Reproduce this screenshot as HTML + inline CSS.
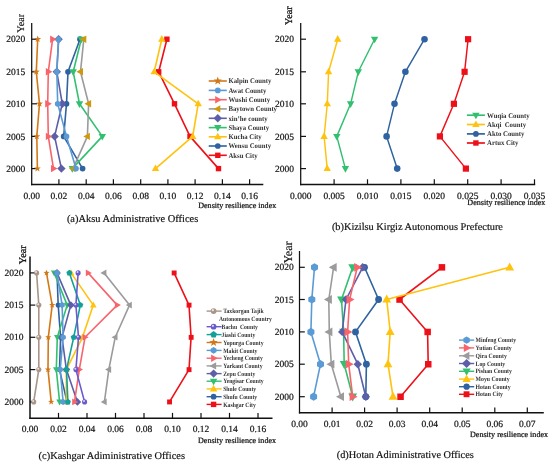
<!DOCTYPE html>
<html lang="en"><head><meta charset="utf-8"><title>Density resilience index</title>
<style>
html,body{margin:0;padding:0;background:#fff;}
body{width:550px;height:466px;overflow:hidden;}
svg{display:block;text-rendering:geometricPrecision;font-family:"Liberation Serif",serif;}
.t{font-size:9.5px;fill:#111;stroke:#111;stroke-width:0.2px;}
.lg{font-weight:bold;fill:#333;}
.yr{fill:#111;stroke:#111;stroke-width:0.15px;}
.yrb{fill:#111;stroke:#111;stroke-width:0.3px;}
.xl{font-size:8.08px;fill:#111;stroke:#111;stroke-width:0.22px;}
.ti{fill:#111;stroke:#111;stroke-width:0.18px;}
</style></head><body>
<svg width="550" height="466" viewBox="0 0 550 466">
<rect width="550" height="466" fill="#fff"/>
<g id="pa">
<line x1="31.7" y1="23" x2="31.7" y2="185.35" stroke="#111" stroke-width="1.25"/>
<line x1="31.099999999999998" y1="184.6" x2="263.3" y2="184.6" stroke="#111" stroke-width="1.5"/>
<line x1="58.9" y1="184.6" x2="58.9" y2="179.29999999999998" stroke="#111" stroke-width="1.2"/>
<line x1="86.2" y1="184.6" x2="86.2" y2="179.29999999999998" stroke="#111" stroke-width="1.2"/>
<line x1="113.4" y1="184.6" x2="113.4" y2="179.29999999999998" stroke="#111" stroke-width="1.2"/>
<line x1="140.7" y1="184.6" x2="140.7" y2="179.29999999999998" stroke="#111" stroke-width="1.2"/>
<line x1="167.9" y1="184.6" x2="167.9" y2="179.29999999999998" stroke="#111" stroke-width="1.2"/>
<line x1="195.1" y1="184.6" x2="195.1" y2="179.29999999999998" stroke="#111" stroke-width="1.2"/>
<line x1="222.4" y1="184.6" x2="222.4" y2="179.29999999999998" stroke="#111" stroke-width="1.2"/>
<line x1="249.6" y1="184.6" x2="249.6" y2="179.29999999999998" stroke="#111" stroke-width="1.2"/>
<line x1="31.7" y1="39.2" x2="37.0" y2="39.2" stroke="#111" stroke-width="1.2"/>
<line x1="31.7" y1="71.8" x2="37.0" y2="71.8" stroke="#111" stroke-width="1.2"/>
<line x1="31.7" y1="103.8" x2="37.0" y2="103.8" stroke="#111" stroke-width="1.2"/>
<line x1="31.7" y1="136.4" x2="37.0" y2="136.4" stroke="#111" stroke-width="1.2"/>
<line x1="31.7" y1="168.6" x2="37.0" y2="168.6" stroke="#111" stroke-width="1.2"/>
<text x="31.7" y="199.0" text-anchor="middle" class="t">0.00</text>
<text x="58.9" y="199.0" text-anchor="middle" class="t">0.02</text>
<text x="86.2" y="199.0" text-anchor="middle" class="t">0.04</text>
<text x="113.4" y="199.0" text-anchor="middle" class="t">0.06</text>
<text x="140.7" y="199.0" text-anchor="middle" class="t">0.08</text>
<text x="167.9" y="199.0" text-anchor="middle" class="t">0.10</text>
<text x="195.1" y="199.0" text-anchor="middle" class="t">0.12</text>
<text x="222.4" y="199.0" text-anchor="middle" class="t">0.14</text>
<text x="249.6" y="199.0" text-anchor="middle" class="t">0.16</text>
<text x="25.3" y="42.3" text-anchor="end" class="t">2020</text>
<text x="25.3" y="74.9" text-anchor="end" class="t">2015</text>
<text x="25.3" y="106.9" text-anchor="end" class="t">2010</text>
<text x="25.3" y="139.5" text-anchor="end" class="t">2005</text>
<text x="25.3" y="171.7" text-anchor="end" class="t">2000</text>
<polyline points="166.9,39.2 158.7,71.8 174.5,103.8 190.0,136.4 218.5,168.6" fill="none" stroke="#EE1018" stroke-width="1.6" stroke-linejoin="round"/>
<rect x="164.2" y="36.5" width="5.4" height="5.4" fill="#EE1018"/>
<rect x="156.0" y="69.1" width="5.4" height="5.4" fill="#EE1018"/>
<rect x="171.8" y="101.1" width="5.4" height="5.4" fill="#EE1018"/>
<rect x="187.3" y="133.7" width="5.4" height="5.4" fill="#EE1018"/>
<rect x="215.8" y="165.9" width="5.4" height="5.4" fill="#EE1018"/>
<polyline points="80.0,39.2 68.0,71.8 66.5,103.8 63.7,136.4 82.6,168.6" fill="none" stroke="#2E62A0" stroke-width="1.6" stroke-linejoin="round"/>
<circle cx="80.0" cy="39.2" r="2.85" fill="#2E62A0"/>
<circle cx="68.0" cy="71.8" r="2.85" fill="#2E62A0"/>
<circle cx="66.5" cy="103.8" r="2.85" fill="#2E62A0"/>
<circle cx="63.7" cy="136.4" r="2.85" fill="#2E62A0"/>
<circle cx="82.6" cy="168.6" r="2.85" fill="#2E62A0"/>
<polyline points="161.8,39.2 154.2,71.8 198.2,103.8 192.7,136.4 155.5,168.6" fill="none" stroke="#FFC20E" stroke-width="1.6" stroke-linejoin="round"/>
<polygon points="161.8,35.1 165.5,41.7 158.1,41.7" fill="#FFC20E"/>
<polygon points="154.2,67.7 157.9,74.3 150.5,74.3" fill="#FFC20E"/>
<polygon points="198.2,99.7 201.9,106.3 194.5,106.3" fill="#FFC20E"/>
<polygon points="192.7,132.3 196.4,138.9 189.0,138.9" fill="#FFC20E"/>
<polygon points="155.5,164.5 159.2,171.1 151.8,171.1" fill="#FFC20E"/>
<polyline points="81.3,39.2 73.2,71.8 79.5,103.8 102.3,136.4 72.3,168.6" fill="none" stroke="#32C070" stroke-width="1.6" stroke-linejoin="round"/>
<polygon points="81.3,43.3 85.0,36.7 77.6,36.7" fill="#32C070"/>
<polygon points="73.2,75.9 76.9,69.3 69.5,69.3" fill="#32C070"/>
<polygon points="79.5,107.9 83.2,101.3 75.8,101.3" fill="#32C070"/>
<polygon points="102.3,140.5 106.0,133.9 98.6,133.9" fill="#32C070"/>
<polygon points="72.3,172.7 76.0,166.1 68.6,166.1" fill="#32C070"/>
<polyline points="58.6,39.2 56.8,71.8 62.3,103.8 54.6,136.4 61.4,168.6" fill="none" stroke="#5C5EA8" stroke-width="1.6" stroke-linejoin="round"/>
<polygon points="58.6,35.0 62.8,39.2 58.6,43.4 54.4,39.2" fill="#5C5EA8"/>
<polygon points="56.8,67.6 61.0,71.8 56.8,76.0 52.6,71.8" fill="#5C5EA8"/>
<polygon points="62.3,99.6 66.5,103.8 62.3,108.0 58.1,103.8" fill="#5C5EA8"/>
<polygon points="54.6,132.2 58.8,136.4 54.6,140.6 50.4,136.4" fill="#5C5EA8"/>
<polygon points="61.4,164.4 65.6,168.6 61.4,172.8 57.2,168.6" fill="#5C5EA8"/>
<polyline points="83.8,39.2 80.5,71.8 88.6,103.8 87.4,136.4 73.0,168.6" fill="none" stroke="#9b9b9b" stroke-width="1.6" stroke-linejoin="round"/>
<polygon points="79.7,39.2 86.3,35.5 86.3,42.9" fill="#CF9A0A"/>
<polygon points="76.4,71.8 83.0,68.1 83.0,75.5" fill="#CF9A0A"/>
<polygon points="84.5,103.8 91.1,100.1 91.1,107.5" fill="#CF9A0A"/>
<polygon points="83.3,136.4 89.9,132.7 89.9,140.1" fill="#CF9A0A"/>
<polygon points="68.9,168.6 75.5,164.9 75.5,172.3" fill="#CF9A0A"/>
<polyline points="52.6,39.2 48.3,71.8 47.7,103.8 48.3,136.4 53.5,168.6" fill="none" stroke="#F8646C" stroke-width="1.6" stroke-linejoin="round"/>
<polygon points="56.7,39.2 50.1,35.5 50.1,42.9" fill="#F8646C"/>
<polygon points="52.4,71.8 45.8,68.1 45.8,75.5" fill="#F8646C"/>
<polygon points="51.8,103.8 45.2,100.1 45.2,107.5" fill="#F8646C"/>
<polygon points="52.4,136.4 45.8,132.7 45.8,140.1" fill="#F8646C"/>
<polygon points="57.6,168.6 51.0,164.9 51.0,172.3" fill="#F8646C"/>
<polyline points="58.6,39.2 56.8,71.8 57.7,103.8 66.5,136.4 76.0,168.6" fill="none" stroke="#5B9BD5" stroke-width="1.6" stroke-linejoin="round"/>
<circle cx="58.6" cy="39.2" r="2.85" fill="#5B9BD5"/>
<circle cx="56.8" cy="71.8" r="2.85" fill="#5B9BD5"/>
<circle cx="57.7" cy="103.8" r="2.85" fill="#5B9BD5"/>
<circle cx="66.5" cy="136.4" r="2.85" fill="#5B9BD5"/>
<circle cx="76.0" cy="168.6" r="2.85" fill="#5B9BD5"/>
<polyline points="37.7,39.2 36.3,71.8 39.5,103.8 36.8,136.4 37.4,168.6" fill="none" stroke="#D27818" stroke-width="1.6" stroke-linejoin="round"/>
<polygon points="37.7,35.6 36.8,38.0 34.3,38.1 36.3,39.7 35.6,42.1 37.7,40.7 39.8,42.1 39.1,39.7 41.1,38.1 38.6,38.0" fill="#D27818"/>
<polygon points="36.3,68.2 35.4,70.6 32.9,70.7 34.9,72.3 34.2,74.7 36.3,73.3 38.4,74.7 37.7,72.3 39.7,70.7 37.2,70.6" fill="#D27818"/>
<polygon points="39.5,100.2 38.6,102.6 36.1,102.7 38.1,104.3 37.4,106.7 39.5,105.3 41.6,106.7 40.9,104.3 42.9,102.7 40.4,102.6" fill="#D27818"/>
<polygon points="36.8,132.8 35.9,135.2 33.4,135.3 35.4,136.9 34.7,139.3 36.8,137.9 38.9,139.3 38.2,136.9 40.2,135.3 37.7,135.2" fill="#D27818"/>
<polygon points="37.4,165.0 36.5,167.4 34.0,167.5 36.0,169.1 35.3,171.5 37.4,170.1 39.5,171.5 38.8,169.1 40.8,167.5 38.3,167.4" fill="#D27818"/>
<line x1="208.7" y1="81.0" x2="226.8" y2="81.0" stroke="#D27818" stroke-width="1.6"/>
<polygon points="217.8,76.6 216.7,79.5 213.6,79.6 216.0,81.6 215.2,84.6 217.8,82.8 220.3,84.6 219.5,81.6 221.9,79.6 218.8,79.5" fill="#D27818"/>
<text transform="translate(228.5,83.3) scale(0.95,1)" class="lg" font-size="7.1">Kalpin County</text>
<line x1="208.7" y1="90.4" x2="226.8" y2="90.4" stroke="#5B9BD5" stroke-width="1.6"/>
<circle cx="217.8" cy="90.4" r="2.85" fill="#5B9BD5"/>
<text transform="translate(228.5,92.7) scale(0.95,1)" class="lg" font-size="7.1">Awat County</text>
<line x1="208.7" y1="99.7" x2="226.8" y2="99.7" stroke="#F8646C" stroke-width="1.6"/>
<polygon points="221.8,99.7 215.2,96.0 215.2,103.4" fill="#F8646C"/>
<text transform="translate(228.5,102.0) scale(0.95,1)" class="lg" font-size="7.1">Wushi County</text>
<line x1="208.7" y1="108.9" x2="226.8" y2="108.9" stroke="#9b9b9b" stroke-width="1.6"/>
<polygon points="213.7,108.9 220.3,105.2 220.3,112.6" fill="#CF9A0A"/>
<text transform="translate(228.5,111.2) scale(0.95,1)" class="lg" font-size="7.1">Baytown County</text>
<line x1="208.7" y1="118.3" x2="226.8" y2="118.3" stroke="#5C5EA8" stroke-width="1.6"/>
<polygon points="217.8,114.1 221.9,118.3 217.8,122.5 213.6,118.3" fill="#5C5EA8"/>
<text transform="translate(228.5,120.6) scale(0.95,1)" class="lg" font-size="7.1">xin’he county</text>
<line x1="208.7" y1="127.6" x2="226.8" y2="127.6" stroke="#32C070" stroke-width="1.6"/>
<polygon points="217.8,131.7 221.4,125.1 214.1,125.1" fill="#32C070"/>
<text transform="translate(228.5,129.9) scale(0.95,1)" class="lg" font-size="7.1">Shaya County</text>
<line x1="208.7" y1="136.8" x2="226.8" y2="136.8" stroke="#FFC20E" stroke-width="1.6"/>
<polygon points="217.8,132.7 221.4,139.3 214.1,139.3" fill="#FFC20E"/>
<text transform="translate(228.5,139.1) scale(0.95,1)" class="lg" font-size="7.1">Kucha City</text>
<line x1="208.7" y1="146.0" x2="226.8" y2="146.0" stroke="#2E62A0" stroke-width="1.6"/>
<circle cx="217.8" cy="146.0" r="2.85" fill="#2E62A0"/>
<text transform="translate(228.5,148.3) scale(0.95,1)" class="lg" font-size="7.1">Wensu County</text>
<line x1="208.7" y1="155.3" x2="226.8" y2="155.3" stroke="#EE1018" stroke-width="1.6"/>
<rect x="215.1" y="152.6" width="5.4" height="5.4" fill="#EE1018"/>
<text transform="translate(228.5,157.6) scale(0.95,1)" class="lg" font-size="7.1">Aksu City</text>
<text transform="translate(23.5,32.7) rotate(-90)" class="yr" font-size="10.2">Year</text>
<text x="198.2" y="208.0" class="xl">Density resilience index</text>
<text x="66.9" y="222.0" class="ti" font-size="10.45">(a)Aksu Administrative Offices</text>
</g>
<g id="pb">
<line x1="300.7" y1="23" x2="300.7" y2="185.35" stroke="#111" stroke-width="1.25"/>
<line x1="300.09999999999997" y1="184.6" x2="535.2" y2="184.6" stroke="#111" stroke-width="1.5"/>
<line x1="334.1" y1="184.6" x2="334.1" y2="179.29999999999998" stroke="#111" stroke-width="1.2"/>
<line x1="367.5" y1="184.6" x2="367.5" y2="179.29999999999998" stroke="#111" stroke-width="1.2"/>
<line x1="400.9" y1="184.6" x2="400.9" y2="179.29999999999998" stroke="#111" stroke-width="1.2"/>
<line x1="434.3" y1="184.6" x2="434.3" y2="179.29999999999998" stroke="#111" stroke-width="1.2"/>
<line x1="467.7" y1="184.6" x2="467.7" y2="179.29999999999998" stroke="#111" stroke-width="1.2"/>
<line x1="501.1" y1="184.6" x2="501.1" y2="179.29999999999998" stroke="#111" stroke-width="1.2"/>
<line x1="534.5" y1="184.6" x2="534.5" y2="179.29999999999998" stroke="#111" stroke-width="1.2"/>
<line x1="300.7" y1="39.2" x2="306.0" y2="39.2" stroke="#111" stroke-width="1.2"/>
<line x1="300.7" y1="71.8" x2="306.0" y2="71.8" stroke="#111" stroke-width="1.2"/>
<line x1="300.7" y1="103.8" x2="306.0" y2="103.8" stroke="#111" stroke-width="1.2"/>
<line x1="300.7" y1="136.4" x2="306.0" y2="136.4" stroke="#111" stroke-width="1.2"/>
<line x1="300.7" y1="168.6" x2="306.0" y2="168.6" stroke="#111" stroke-width="1.2"/>
<text x="300.7" y="198.7" text-anchor="middle" class="t">0.000</text>
<text x="334.1" y="198.7" text-anchor="middle" class="t">0.005</text>
<text x="367.5" y="198.7" text-anchor="middle" class="t">0.010</text>
<text x="400.9" y="198.7" text-anchor="middle" class="t">0.015</text>
<text x="434.3" y="198.7" text-anchor="middle" class="t">0.020</text>
<text x="467.7" y="198.7" text-anchor="middle" class="t">0.025</text>
<text x="501.1" y="198.7" text-anchor="middle" class="t">0.030</text>
<text x="534.5" y="198.7" text-anchor="middle" class="t">0.035</text>
<text x="294.0" y="42.3" text-anchor="end" class="t">2020</text>
<text x="294.0" y="74.9" text-anchor="end" class="t">2015</text>
<text x="294.0" y="106.9" text-anchor="end" class="t">2010</text>
<text x="294.0" y="139.5" text-anchor="end" class="t">2005</text>
<text x="294.0" y="171.7" text-anchor="end" class="t">2000</text>
<polyline points="374.6,39.2 358.3,71.8 350.6,103.8 336.8,136.4 345.4,168.6" fill="none" stroke="#32C070" stroke-width="1.45" stroke-linejoin="round"/>
<polygon points="374.6,43.3 378.3,36.7 370.9,36.7" fill="#32C070"/>
<polygon points="358.3,75.9 362.0,69.3 354.6,69.3" fill="#32C070"/>
<polygon points="350.6,107.9 354.3,101.3 346.9,101.3" fill="#32C070"/>
<polygon points="336.8,140.5 340.5,133.9 333.1,133.9" fill="#32C070"/>
<polygon points="345.4,172.7 349.1,166.1 341.7,166.1" fill="#32C070"/>
<polyline points="337.7,39.2 328.6,71.8 327.3,103.8 324.1,136.4 327.2,168.6" fill="none" stroke="#FFC20E" stroke-width="1.45" stroke-linejoin="round"/>
<polygon points="337.7,35.1 341.4,41.7 334.0,41.7" fill="#FFC20E"/>
<polygon points="328.6,67.7 332.3,74.3 324.9,74.3" fill="#FFC20E"/>
<polygon points="327.3,99.7 331.0,106.3 323.6,106.3" fill="#FFC20E"/>
<polygon points="324.1,132.3 327.8,138.9 320.4,138.9" fill="#FFC20E"/>
<polygon points="327.2,164.5 330.9,171.1 323.5,171.1" fill="#FFC20E"/>
<polyline points="424.5,39.2 405.4,71.8 394.5,103.8 386.6,136.4 397.2,168.6" fill="none" stroke="#2E62A0" stroke-width="1.45" stroke-linejoin="round"/>
<circle cx="424.5" cy="39.2" r="3.28" fill="#2E62A0"/>
<circle cx="405.4" cy="71.8" r="3.28" fill="#2E62A0"/>
<circle cx="394.5" cy="103.8" r="3.28" fill="#2E62A0"/>
<circle cx="386.6" cy="136.4" r="3.28" fill="#2E62A0"/>
<circle cx="397.2" cy="168.6" r="3.28" fill="#2E62A0"/>
<polyline points="468.1,39.2 464.6,71.8 453.9,103.8 439.9,136.4 465.9,168.6" fill="none" stroke="#EE1018" stroke-width="1.45" stroke-linejoin="round"/>
<rect x="465.0" y="36.1" width="6.2" height="6.2" fill="#EE1018"/>
<rect x="461.5" y="68.7" width="6.2" height="6.2" fill="#EE1018"/>
<rect x="450.8" y="100.7" width="6.2" height="6.2" fill="#EE1018"/>
<rect x="436.8" y="133.3" width="6.2" height="6.2" fill="#EE1018"/>
<rect x="462.8" y="165.5" width="6.2" height="6.2" fill="#EE1018"/>
<line x1="466.9" y1="115.2" x2="484.9" y2="115.2" stroke="#32C070" stroke-width="1.7"/>
<polygon points="475.9,119.3 479.6,112.7 472.2,112.7" fill="#32C070"/>
<text transform="translate(487.0,117.5) scale(0.955,1)" class="lg" font-size="7.1">Wuqia County</text>
<line x1="466.9" y1="124.5" x2="484.9" y2="124.5" stroke="#FFC20E" stroke-width="1.7"/>
<polygon points="475.9,120.4 479.6,127.0 472.2,127.0" fill="#FFC20E"/>
<text transform="translate(487.0,126.8) scale(0.955,1)" class="lg" font-size="7.1">Akqi  County</text>
<line x1="466.9" y1="133.9" x2="484.9" y2="133.9" stroke="#2E62A0" stroke-width="1.7"/>
<circle cx="475.9" cy="133.9" r="2.85" fill="#2E62A0"/>
<text transform="translate(487.0,136.2) scale(0.955,1)" class="lg" font-size="7.1">Akto County</text>
<line x1="466.9" y1="143.0" x2="484.9" y2="143.0" stroke="#EE1018" stroke-width="1.7"/>
<rect x="473.2" y="140.3" width="5.4" height="5.4" fill="#EE1018"/>
<text transform="translate(487.0,145.3) scale(0.955,1)" class="lg" font-size="7.1">Artux City</text>
<text transform="translate(291.5,24.9) rotate(-90)" class="yrb" font-size="10.0">Year</text>
<text x="467.3" y="205.2" class="xl">Density resilience index</text>
<text x="331.9" y="229.5" class="ti" font-size="10.33">(b)Kizilsu Kirgiz Autonomous Prefecture</text>
</g>
<g id="pc">
<line x1="30.0" y1="256.6" x2="30.0" y2="418.95" stroke="#111" stroke-width="1.5"/>
<line x1="29.4" y1="418.2" x2="272.5" y2="418.2" stroke="#111" stroke-width="1.5"/>
<line x1="58.5" y1="418.2" x2="58.5" y2="412.9" stroke="#111" stroke-width="1.2"/>
<line x1="87.0" y1="418.2" x2="87.0" y2="412.9" stroke="#111" stroke-width="1.2"/>
<line x1="115.5" y1="418.2" x2="115.5" y2="412.9" stroke="#111" stroke-width="1.2"/>
<line x1="144.0" y1="418.2" x2="144.0" y2="412.9" stroke="#111" stroke-width="1.2"/>
<line x1="172.5" y1="418.2" x2="172.5" y2="412.9" stroke="#111" stroke-width="1.2"/>
<line x1="201.0" y1="418.2" x2="201.0" y2="412.9" stroke="#111" stroke-width="1.2"/>
<line x1="229.5" y1="418.2" x2="229.5" y2="412.9" stroke="#111" stroke-width="1.2"/>
<line x1="258.0" y1="418.2" x2="258.0" y2="412.9" stroke="#111" stroke-width="1.2"/>
<line x1="30.0" y1="272.9" x2="35.3" y2="272.9" stroke="#111" stroke-width="1.2"/>
<line x1="30.0" y1="305.1" x2="35.3" y2="305.1" stroke="#111" stroke-width="1.2"/>
<line x1="30.0" y1="337.3" x2="35.3" y2="337.3" stroke="#111" stroke-width="1.2"/>
<line x1="30.0" y1="369.6" x2="35.3" y2="369.6" stroke="#111" stroke-width="1.2"/>
<line x1="30.0" y1="401.9" x2="35.3" y2="401.9" stroke="#111" stroke-width="1.2"/>
<text x="30.0" y="432.4" text-anchor="middle" class="t">0.00</text>
<text x="58.5" y="432.4" text-anchor="middle" class="t">0.02</text>
<text x="87.0" y="432.4" text-anchor="middle" class="t">0.04</text>
<text x="115.5" y="432.4" text-anchor="middle" class="t">0.06</text>
<text x="144.0" y="432.4" text-anchor="middle" class="t">0.08</text>
<text x="172.5" y="432.4" text-anchor="middle" class="t">0.10</text>
<text x="201.0" y="432.4" text-anchor="middle" class="t">0.12</text>
<text x="229.5" y="432.4" text-anchor="middle" class="t">0.14</text>
<text x="258.0" y="432.4" text-anchor="middle" class="t">0.16</text>
<text x="23.5" y="276.0" text-anchor="end" class="t">2020</text>
<text x="23.5" y="308.2" text-anchor="end" class="t">2015</text>
<text x="23.5" y="340.4" text-anchor="end" class="t">2010</text>
<text x="23.5" y="372.7" text-anchor="end" class="t">2005</text>
<text x="23.5" y="405.0" text-anchor="end" class="t">2000</text>
<polyline points="174.1,272.9 189.0,305.1 191.1,337.3 189.0,369.6 169.5,401.9" fill="none" stroke="#EE1018" stroke-width="1.6" stroke-linejoin="round"/>
<rect x="171.7" y="270.5" width="4.9" height="4.9" fill="#EE1018"/>
<rect x="186.6" y="302.7" width="4.9" height="4.9" fill="#EE1018"/>
<rect x="188.7" y="334.9" width="4.9" height="4.9" fill="#EE1018"/>
<rect x="186.6" y="367.2" width="4.9" height="4.9" fill="#EE1018"/>
<rect x="167.1" y="399.5" width="4.9" height="4.9" fill="#EE1018"/>
<polyline points="57.0,272.9 58.2,305.1 60.6,337.3 59.5,369.6 67.0,401.9" fill="none" stroke="#2E62A0" stroke-width="1.6" stroke-linejoin="round"/>
<circle cx="57.0" cy="272.9" r="2.56" fill="#2E62A0"/>
<circle cx="58.2" cy="305.1" r="2.56" fill="#2E62A0"/>
<circle cx="60.6" cy="337.3" r="2.56" fill="#2E62A0"/>
<circle cx="59.5" cy="369.6" r="2.56" fill="#2E62A0"/>
<circle cx="67.0" cy="401.9" r="2.56" fill="#2E62A0"/>
<polyline points="71.0,272.9 93.3,305.1 82.5,337.3 66.3,369.6 66.3,401.9" fill="none" stroke="#FFC20E" stroke-width="1.6" stroke-linejoin="round"/>
<polygon points="71.0,269.2 74.3,275.2 67.7,275.2" fill="#FFC20E"/>
<polygon points="93.3,301.4 96.6,307.4 90.0,307.4" fill="#FFC20E"/>
<polygon points="82.5,333.6 85.8,339.6 79.2,339.6" fill="#FFC20E"/>
<polygon points="66.3,365.9 69.6,371.9 63.0,371.9" fill="#FFC20E"/>
<polygon points="66.3,398.2 69.6,404.2 63.0,404.2" fill="#FFC20E"/>
<polyline points="54.2,272.9 67.2,305.1 57.3,337.3 56.3,369.6 59.6,401.9" fill="none" stroke="#32C070" stroke-width="1.6" stroke-linejoin="round"/>
<polygon points="54.2,276.6 57.5,270.6 50.9,270.6" fill="#32C070"/>
<polygon points="67.2,308.8 70.5,302.8 63.9,302.8" fill="#32C070"/>
<polygon points="57.3,341.0 60.6,335.0 54.0,335.0" fill="#32C070"/>
<polygon points="56.3,373.3 59.6,367.3 53.0,367.3" fill="#32C070"/>
<polygon points="59.6,405.6 62.9,399.6 56.3,399.6" fill="#32C070"/>
<polyline points="57.0,272.9 70.8,305.1 62.0,337.3 66.4,369.6 77.4,401.9" fill="none" stroke="#5C5EA8" stroke-width="1.6" stroke-linejoin="round"/>
<polygon points="57.0,269.1 60.8,272.9 57.0,276.7 53.2,272.9" fill="#5C5EA8"/>
<polygon points="70.8,301.3 74.6,305.1 70.8,308.9 67.0,305.1" fill="#5C5EA8"/>
<polygon points="62.0,333.5 65.8,337.3 62.0,341.1 58.2,337.3" fill="#5C5EA8"/>
<polygon points="66.4,365.8 70.2,369.6 66.4,373.4 62.6,369.6" fill="#5C5EA8"/>
<polygon points="77.4,398.1 81.2,401.9 77.4,405.7 73.6,401.9" fill="#5C5EA8"/>
<polyline points="104.1,272.9 129.5,305.1 115.2,337.3 108.8,369.6 104.4,401.9" fill="none" stroke="#9b9b9b" stroke-width="1.6" stroke-linejoin="round"/>
<polygon points="100.4,272.9 106.4,269.6 106.4,276.2" fill="#9b9b9b"/>
<polygon points="125.8,305.1 131.8,301.8 131.8,308.4" fill="#9b9b9b"/>
<polygon points="111.5,337.3 117.5,334.0 117.5,340.6" fill="#9b9b9b"/>
<polygon points="105.1,369.6 111.1,366.3 111.1,372.9" fill="#9b9b9b"/>
<polygon points="100.7,401.9 106.7,398.6 106.7,405.2" fill="#9b9b9b"/>
<polyline points="88.1,272.9 117.2,305.1 85.0,337.3 79.3,369.6 74.5,401.9" fill="none" stroke="#F8646C" stroke-width="1.6" stroke-linejoin="round"/>
<polygon points="91.8,272.9 85.8,269.6 85.8,276.2" fill="#F8646C"/>
<polygon points="120.9,305.1 114.9,301.8 114.9,308.4" fill="#F8646C"/>
<polygon points="88.7,337.3 82.7,334.0 82.7,340.6" fill="#F8646C"/>
<polygon points="83.0,369.6 77.0,366.3 77.0,372.9" fill="#F8646C"/>
<polygon points="78.2,401.9 72.2,398.6 72.2,405.2" fill="#F8646C"/>
<polyline points="57.0,272.9 62.1,305.1 63.1,337.3 60.2,369.6 63.1,401.9" fill="none" stroke="#5B9BD5" stroke-width="1.6" stroke-linejoin="round"/>
<polygon points="57.0,269.8 54.3,271.4 54.3,274.4 57.0,276.0 59.7,274.4 59.7,271.4" fill="#5B9BD5"/>
<polygon points="62.1,302.0 59.4,303.6 59.4,306.6 62.1,308.2 64.8,306.6 64.8,303.6" fill="#5B9BD5"/>
<polygon points="63.1,334.2 60.4,335.8 60.4,338.8 63.1,340.4 65.8,338.8 65.8,335.8" fill="#5B9BD5"/>
<polygon points="60.2,366.5 57.5,368.1 57.5,371.1 60.2,372.7 62.9,371.1 62.9,368.1" fill="#5B9BD5"/>
<polygon points="63.1,398.8 60.4,400.4 60.4,403.4 63.1,405.0 65.8,403.4 65.8,400.4" fill="#5B9BD5"/>
<polyline points="46.5,272.9 52.2,305.1 48.3,337.3 48.0,369.6 51.2,401.9" fill="none" stroke="#D27818" stroke-width="1.6" stroke-linejoin="round"/>
<polygon points="46.5,269.7 45.7,271.8 43.4,271.9 45.2,273.3 44.6,275.5 46.5,274.2 48.4,275.5 47.8,273.3 49.6,271.9 47.3,271.8" fill="#D27818"/>
<polygon points="52.2,301.9 51.4,304.0 49.1,304.1 50.9,305.5 50.3,307.7 52.2,306.5 54.1,307.7 53.5,305.5 55.3,304.1 53.0,304.0" fill="#D27818"/>
<polygon points="48.3,334.1 47.5,336.2 45.2,336.3 47.0,337.7 46.4,339.9 48.3,338.7 50.2,339.9 49.6,337.7 51.4,336.3 49.1,336.2" fill="#D27818"/>
<polygon points="48.0,366.4 47.2,368.5 44.9,368.6 46.7,370.0 46.1,372.2 48.0,371.0 49.9,372.2 49.3,370.0 51.1,368.6 48.8,368.5" fill="#D27818"/>
<polygon points="51.2,398.7 50.4,400.8 48.1,400.9 49.9,402.3 49.3,404.5 51.2,403.2 53.1,404.5 52.5,402.3 54.3,400.9 52.0,400.8" fill="#D27818"/>
<polyline points="69.4,272.9 80.3,305.1 73.7,337.3 66.5,369.6 67.9,401.9" fill="none" stroke="#12A19A" stroke-width="1.6" stroke-linejoin="round"/>
<polygon points="69.4,269.8 66.4,271.9 67.5,275.4 71.3,275.4 72.4,271.9" fill="#12A19A"/>
<polygon points="80.3,302.0 77.3,304.1 78.4,307.6 82.2,307.6 83.3,304.1" fill="#12A19A"/>
<polygon points="73.7,334.2 70.7,336.3 71.8,339.8 75.6,339.8 76.7,336.3" fill="#12A19A"/>
<polygon points="66.5,366.5 63.5,368.6 64.6,372.1 68.4,372.1 69.5,368.6" fill="#12A19A"/>
<polygon points="67.9,398.8 64.9,400.9 66.0,404.4 69.8,404.4 70.9,400.9" fill="#12A19A"/>
<polyline points="78.1,272.9 75.9,305.1 78.5,337.3 75.9,369.6 84.6,401.9" fill="none" stroke="#6A5ACD" stroke-width="1.6" stroke-linejoin="round"/>
<circle cx="78.1" cy="272.9" r="2.56" fill="#6A5ACD"/><circle cx="77.5" cy="272.1" r="0.99" fill="#fff" fill-opacity="0.75"/>
<circle cx="75.9" cy="305.1" r="2.56" fill="#6A5ACD"/><circle cx="75.3" cy="304.3" r="0.99" fill="#fff" fill-opacity="0.75"/>
<circle cx="78.5" cy="337.3" r="2.56" fill="#6A5ACD"/><circle cx="77.9" cy="336.5" r="0.99" fill="#fff" fill-opacity="0.75"/>
<circle cx="75.9" cy="369.6" r="2.56" fill="#6A5ACD"/><circle cx="75.3" cy="368.8" r="0.99" fill="#fff" fill-opacity="0.75"/>
<circle cx="84.6" cy="401.9" r="2.56" fill="#6A5ACD"/><circle cx="84.0" cy="401.1" r="0.99" fill="#fff" fill-opacity="0.75"/>
<polyline points="36.6,272.9 38.8,305.1 38.8,337.3 38.8,369.6 33.7,401.9" fill="none" stroke="#A89588" stroke-width="1.6" stroke-linejoin="round"/>
<circle cx="36.6" cy="272.9" r="2.56" fill="#A89588"/><circle cx="36.0" cy="272.1" r="0.99" fill="#fff" fill-opacity="0.75"/>
<circle cx="38.8" cy="305.1" r="2.56" fill="#A89588"/><circle cx="38.2" cy="304.3" r="0.99" fill="#fff" fill-opacity="0.75"/>
<circle cx="38.8" cy="337.3" r="2.56" fill="#A89588"/><circle cx="38.2" cy="336.5" r="0.99" fill="#fff" fill-opacity="0.75"/>
<circle cx="38.8" cy="369.6" r="2.56" fill="#A89588"/><circle cx="38.2" cy="368.8" r="0.99" fill="#fff" fill-opacity="0.75"/>
<circle cx="33.7" cy="401.9" r="2.56" fill="#A89588"/><circle cx="33.1" cy="401.1" r="0.99" fill="#fff" fill-opacity="0.75"/>
<line x1="206.6" y1="311.1" x2="221.6" y2="311.1" stroke="#A89588" stroke-width="1.4"/>
<circle cx="213.6" cy="311.1" r="2.85" fill="#A89588"/><circle cx="212.9" cy="310.2" r="1.10" fill="#fff" fill-opacity="0.75"/>
<text transform="translate(223.2,313.2) scale(0.862,1)" class="lg" font-size="6.6">Taxkorgan Tajik</text>
<text transform="translate(219.0,321.1) scale(0.862,1)" class="lg" font-size="6.6">Autonomous Country</text>
<line x1="206.6" y1="326.7" x2="221.6" y2="326.7" stroke="#6A5ACD" stroke-width="1.4"/>
<circle cx="213.6" cy="326.7" r="2.85" fill="#6A5ACD"/><circle cx="212.9" cy="325.8" r="1.10" fill="#fff" fill-opacity="0.75"/>
<text transform="translate(221.6,328.8) scale(0.862,1)" class="lg" font-size="6.6">Bachu  County</text>
<line x1="206.6" y1="334.6" x2="221.6" y2="334.6" stroke="#12A19A" stroke-width="1.4"/>
<polygon points="213.6,331.1 210.3,333.5 211.5,337.4 215.7,337.4 216.9,333.5" fill="#12A19A"/>
<text transform="translate(221.6,336.7) scale(0.862,1)" class="lg" font-size="6.6">Jiashi County</text>
<line x1="206.6" y1="342.5" x2="221.6" y2="342.5" stroke="#D27818" stroke-width="1.4"/>
<polygon points="213.6,338.1 212.5,341.0 209.4,341.1 211.9,343.1 211.0,346.1 213.6,344.3 216.2,346.1 215.3,343.1 217.8,341.1 214.7,341.0" fill="#D27818"/>
<text transform="translate(223.2,344.6) scale(0.862,1)" class="lg" font-size="6.6">Yopurga County</text>
<line x1="206.6" y1="350.4" x2="221.6" y2="350.4" stroke="#5B9BD5" stroke-width="1.4"/>
<polygon points="213.6,347.0 210.7,348.7 210.7,352.1 213.6,353.8 216.5,352.1 216.5,348.7" fill="#5B9BD5"/>
<text transform="translate(223.2,352.5) scale(0.862,1)" class="lg" font-size="6.6">Makit County</text>
<line x1="206.6" y1="358.2" x2="221.6" y2="358.2" stroke="#F8646C" stroke-width="1.4"/>
<polygon points="217.7,358.2 211.1,354.5 211.1,361.9" fill="#F8646C"/>
<text transform="translate(223.2,360.3) scale(0.862,1)" class="lg" font-size="6.6">Yecheng County</text>
<line x1="206.6" y1="365.9" x2="221.6" y2="365.9" stroke="#9b9b9b" stroke-width="1.4"/>
<polygon points="209.5,365.9 216.1,362.2 216.1,369.6" fill="#9b9b9b"/>
<text transform="translate(223.2,368.0) scale(0.862,1)" class="lg" font-size="6.6">Yarkant County</text>
<line x1="206.6" y1="373.6" x2="221.6" y2="373.6" stroke="#5C5EA8" stroke-width="1.4"/>
<polygon points="213.6,369.4 217.8,373.6 213.6,377.8 209.4,373.6" fill="#5C5EA8"/>
<text transform="translate(223.2,375.7) scale(0.862,1)" class="lg" font-size="6.6">Zepu County</text>
<line x1="206.6" y1="381.2" x2="221.6" y2="381.2" stroke="#32C070" stroke-width="1.4"/>
<polygon points="213.6,385.3 217.3,378.7 209.9,378.7" fill="#32C070"/>
<text transform="translate(223.2,383.3) scale(0.862,1)" class="lg" font-size="6.6">Yengisar County</text>
<line x1="206.6" y1="388.9" x2="221.6" y2="388.9" stroke="#FFC20E" stroke-width="1.4"/>
<polygon points="213.6,384.8 217.3,391.4 209.9,391.4" fill="#FFC20E"/>
<text transform="translate(223.2,391.0) scale(0.862,1)" class="lg" font-size="6.6">Shule County</text>
<line x1="206.6" y1="396.7" x2="221.6" y2="396.7" stroke="#2E62A0" stroke-width="1.4"/>
<circle cx="213.6" cy="396.7" r="2.85" fill="#2E62A0"/>
<text transform="translate(223.2,398.8) scale(0.862,1)" class="lg" font-size="6.6">Shufu County</text>
<line x1="206.6" y1="404.4" x2="221.6" y2="404.4" stroke="#EE1018" stroke-width="1.4"/>
<rect x="210.9" y="401.7" width="5.4" height="5.4" fill="#EE1018"/>
<text transform="translate(223.2,406.5) scale(0.862,1)" class="lg" font-size="6.6">Kashgar City</text>
<text transform="translate(25.9,264.2) rotate(-90)" class="yrb" font-size="10.2">Year</text>
<text x="198" y="442.6" class="xl">Density resilience index</text>
<text x="38.6" y="459.4" class="ti" font-size="10.4">(c)Kashgar Adiministrative Offices</text>
</g>
<g id="pd">
<line x1="299.5" y1="251" x2="299.5" y2="413.45" stroke="#111" stroke-width="1.25"/>
<line x1="298.9" y1="412.7" x2="543.8" y2="412.7" stroke="#111" stroke-width="1.5"/>
<line x1="332.1" y1="412.7" x2="332.1" y2="407.4" stroke="#111" stroke-width="1.2"/>
<line x1="364.6" y1="412.7" x2="364.6" y2="407.4" stroke="#111" stroke-width="1.2"/>
<line x1="397.1" y1="412.7" x2="397.1" y2="407.4" stroke="#111" stroke-width="1.2"/>
<line x1="429.7" y1="412.7" x2="429.7" y2="407.4" stroke="#111" stroke-width="1.2"/>
<line x1="462.2" y1="412.7" x2="462.2" y2="407.4" stroke="#111" stroke-width="1.2"/>
<line x1="494.8" y1="412.7" x2="494.8" y2="407.4" stroke="#111" stroke-width="1.2"/>
<line x1="527.3" y1="412.7" x2="527.3" y2="407.4" stroke="#111" stroke-width="1.2"/>
<line x1="299.5" y1="267.3" x2="304.8" y2="267.3" stroke="#111" stroke-width="1.2"/>
<line x1="299.5" y1="299.5" x2="304.8" y2="299.5" stroke="#111" stroke-width="1.2"/>
<line x1="299.5" y1="331.9" x2="304.8" y2="331.9" stroke="#111" stroke-width="1.2"/>
<line x1="299.5" y1="364.2" x2="304.8" y2="364.2" stroke="#111" stroke-width="1.2"/>
<line x1="299.5" y1="396.7" x2="304.8" y2="396.7" stroke="#111" stroke-width="1.2"/>
<text x="299.5" y="426.7" text-anchor="middle" class="t">0.00</text>
<text x="332.1" y="426.7" text-anchor="middle" class="t">0.01</text>
<text x="364.6" y="426.7" text-anchor="middle" class="t">0.02</text>
<text x="397.1" y="426.7" text-anchor="middle" class="t">0.03</text>
<text x="429.7" y="426.7" text-anchor="middle" class="t">0.04</text>
<text x="462.2" y="426.7" text-anchor="middle" class="t">0.05</text>
<text x="494.8" y="426.7" text-anchor="middle" class="t">0.06</text>
<text x="527.3" y="426.7" text-anchor="middle" class="t">0.07</text>
<text x="293.8" y="270.4" text-anchor="end" class="t">2020</text>
<text x="293.8" y="302.6" text-anchor="end" class="t">2015</text>
<text x="293.8" y="335.0" text-anchor="end" class="t">2010</text>
<text x="293.8" y="367.3" text-anchor="end" class="t">2005</text>
<text x="293.8" y="399.8" text-anchor="end" class="t">2000</text>
<polyline points="441.9,267.3 399.5,299.5 427.6,331.9 428.2,364.2 400.5,396.7" fill="none" stroke="#EE1018" stroke-width="1.6" stroke-linejoin="round"/>
<rect x="438.7" y="264.1" width="6.5" height="6.5" fill="#EE1018"/>
<rect x="396.3" y="296.3" width="6.5" height="6.5" fill="#EE1018"/>
<rect x="424.4" y="328.7" width="6.5" height="6.5" fill="#EE1018"/>
<rect x="425.0" y="361.0" width="6.5" height="6.5" fill="#EE1018"/>
<rect x="397.3" y="393.5" width="6.5" height="6.5" fill="#EE1018"/>
<polyline points="364.5,267.3 378.6,299.5 355.5,331.9 366.4,364.2 365.8,396.7" fill="none" stroke="#2E62A0" stroke-width="1.6" stroke-linejoin="round"/>
<circle cx="364.5" cy="267.3" r="3.42" fill="#2E62A0"/>
<circle cx="378.6" cy="299.5" r="3.42" fill="#2E62A0"/>
<circle cx="355.5" cy="331.9" r="3.42" fill="#2E62A0"/>
<circle cx="366.4" cy="364.2" r="3.42" fill="#2E62A0"/>
<circle cx="365.8" cy="396.7" r="3.42" fill="#2E62A0"/>
<polyline points="509.7,267.3 386.7,299.5 390.2,331.9 388.0,364.2 393.0,396.7" fill="none" stroke="#FFC20E" stroke-width="1.6" stroke-linejoin="round"/>
<polygon points="509.7,262.4 514.1,270.4 505.3,270.4" fill="#FFC20E"/>
<polygon points="386.7,294.6 391.1,302.6 382.3,302.6" fill="#FFC20E"/>
<polygon points="390.2,327.0 394.6,335.0 385.8,335.0" fill="#FFC20E"/>
<polygon points="388.0,359.3 392.4,367.3 383.6,367.3" fill="#FFC20E"/>
<polygon points="393.0,391.8 397.4,399.8 388.6,399.8" fill="#FFC20E"/>
<polyline points="352.7,267.3 341.5,299.5 343.6,331.9 344.2,364.2 352.7,396.7" fill="none" stroke="#32C070" stroke-width="1.6" stroke-linejoin="round"/>
<polygon points="352.7,272.2 357.1,264.2 348.3,264.2" fill="#32C070"/>
<polygon points="341.5,304.4 345.9,296.4 337.1,296.4" fill="#32C070"/>
<polygon points="343.6,336.8 348.0,328.8 339.2,328.8" fill="#32C070"/>
<polygon points="344.2,369.1 348.6,361.1 339.8,361.1" fill="#32C070"/>
<polygon points="352.7,401.6 357.1,393.6 348.3,393.6" fill="#32C070"/>
<polyline points="362.7,267.3 346.0,299.5 342.2,331.9 357.8,364.2 365.8,396.7" fill="none" stroke="#5C5EA8" stroke-width="1.6" stroke-linejoin="round"/>
<polygon points="362.7,263.1 366.9,267.3 362.7,271.5 358.5,267.3" fill="#5C5EA8"/>
<polygon points="346.0,295.3 350.2,299.5 346.0,303.7 341.8,299.5" fill="#5C5EA8"/>
<polygon points="342.2,327.7 346.4,331.9 342.2,336.1 338.0,331.9" fill="#5C5EA8"/>
<polygon points="357.8,360.0 362.0,364.2 357.8,368.4 353.6,364.2" fill="#5C5EA8"/>
<polygon points="365.8,392.5 370.0,396.7 365.8,400.9 361.6,396.7" fill="#5C5EA8"/>
<polyline points="333.6,267.3 328.8,299.5 329.3,331.9 331.3,364.2 340.9,396.7" fill="none" stroke="#9b9b9b" stroke-width="1.6" stroke-linejoin="round"/>
<polygon points="328.7,267.3 336.7,262.9 336.7,271.7" fill="#9b9b9b"/>
<polygon points="323.9,299.5 331.9,295.1 331.9,303.9" fill="#9b9b9b"/>
<polygon points="324.4,331.9 332.4,327.5 332.4,336.3" fill="#9b9b9b"/>
<polygon points="326.4,364.2 334.4,359.8 334.4,368.6" fill="#9b9b9b"/>
<polygon points="336.0,396.7 344.0,392.3 344.0,401.1" fill="#9b9b9b"/>
<polyline points="357.3,267.3 349.6,299.5 347.6,331.9 348.7,364.2 352.7,396.7" fill="none" stroke="#F8646C" stroke-width="1.6" stroke-linejoin="round"/>
<polygon points="362.2,267.3 354.2,262.9 354.2,271.7" fill="#F8646C"/>
<polygon points="354.5,299.5 346.5,295.1 346.5,303.9" fill="#F8646C"/>
<polygon points="352.5,331.9 344.5,327.5 344.5,336.3" fill="#F8646C"/>
<polygon points="353.6,364.2 345.6,359.8 345.6,368.6" fill="#F8646C"/>
<polygon points="357.6,396.7 349.6,392.3 349.6,401.1" fill="#F8646C"/>
<polyline points="314.5,267.3 311.8,299.5 310.9,331.9 320.5,364.2 313.6,396.7" fill="none" stroke="#5B9BD5" stroke-width="1.6" stroke-linejoin="round"/>
<polygon points="314.5,263.2 311.0,265.3 311.0,269.3 314.5,271.4 318.0,269.3 318.0,265.3" fill="#5B9BD5"/>
<polygon points="311.8,295.4 308.3,297.5 308.3,301.5 311.8,303.6 315.3,301.5 315.3,297.5" fill="#5B9BD5"/>
<polygon points="310.9,327.8 307.4,329.9 307.4,333.9 310.9,336.0 314.4,333.9 314.4,329.9" fill="#5B9BD5"/>
<polygon points="320.5,360.1 317.0,362.2 317.0,366.2 320.5,368.3 324.0,366.2 324.0,362.2" fill="#5B9BD5"/>
<polygon points="313.6,392.6 310.1,394.7 310.1,398.7 313.6,400.8 317.1,398.7 317.1,394.7" fill="#5B9BD5"/>
<line x1="459.0" y1="340.1" x2="474.2" y2="340.1" stroke="#5B9BD5" stroke-width="1.4"/>
<polygon points="466.6,336.4 463.4,338.2 463.4,342.0 466.6,343.8 469.8,342.0 469.8,338.2" fill="#5B9BD5"/>
<text transform="translate(475.6,342.2) scale(0.873,1)" class="lg" font-size="6.6">Minfeng County</text>
<line x1="459.0" y1="347.9" x2="474.2" y2="347.9" stroke="#F8646C" stroke-width="1.4"/>
<polygon points="471.1,347.9 463.8,343.8 463.8,352.0" fill="#F8646C"/>
<text transform="translate(475.6,350.0) scale(0.873,1)" class="lg" font-size="6.6">Yutian County</text>
<line x1="459.0" y1="355.8" x2="474.2" y2="355.8" stroke="#9b9b9b" stroke-width="1.4"/>
<polygon points="462.1,355.8 469.4,351.7 469.4,359.9" fill="#9b9b9b"/>
<text transform="translate(475.6,357.9) scale(0.873,1)" class="lg" font-size="6.6">Qira County</text>
<line x1="459.0" y1="363.5" x2="474.2" y2="363.5" stroke="#5C5EA8" stroke-width="1.4"/>
<polygon points="466.6,358.9 471.2,363.5 466.6,368.1 462.0,363.5" fill="#5C5EA8"/>
<text transform="translate(475.6,365.6) scale(0.873,1)" class="lg" font-size="6.6">Lop County</text>
<line x1="459.0" y1="371.3" x2="474.2" y2="371.3" stroke="#32C070" stroke-width="1.4"/>
<polygon points="466.6,375.8 470.7,368.5 462.5,368.5" fill="#32C070"/>
<text transform="translate(475.6,373.4) scale(0.873,1)" class="lg" font-size="6.6">Pishan County</text>
<line x1="459.0" y1="379.1" x2="474.2" y2="379.1" stroke="#FFC20E" stroke-width="1.4"/>
<polygon points="466.6,374.6 470.7,381.9 462.5,381.9" fill="#FFC20E"/>
<text transform="translate(475.6,381.2) scale(0.873,1)" class="lg" font-size="6.6">Moyu County</text>
<line x1="459.0" y1="386.7" x2="474.2" y2="386.7" stroke="#2E62A0" stroke-width="1.4"/>
<circle cx="466.6" cy="386.7" r="3.14" fill="#2E62A0"/>
<text transform="translate(475.6,388.8) scale(0.873,1)" class="lg" font-size="6.6">Hotan County</text>
<line x1="459.0" y1="394.3" x2="474.2" y2="394.3" stroke="#EE1018" stroke-width="1.4"/>
<rect x="463.6" y="391.3" width="5.9" height="5.9" fill="#EE1018"/>
<text transform="translate(475.6,396.4) scale(0.873,1)" class="lg" font-size="6.6">Hotan City</text>
<text transform="translate(292.0,263.6) rotate(-90)" class="yr" font-size="12">Year</text>
<text x="470" y="436.8" class="xl">Density resilience index</text>
<text x="336.7" y="457.5" class="ti" font-size="10.35">(d)Hotan Adiministrative Offices</text>
</g>
</svg>
</body></html>
